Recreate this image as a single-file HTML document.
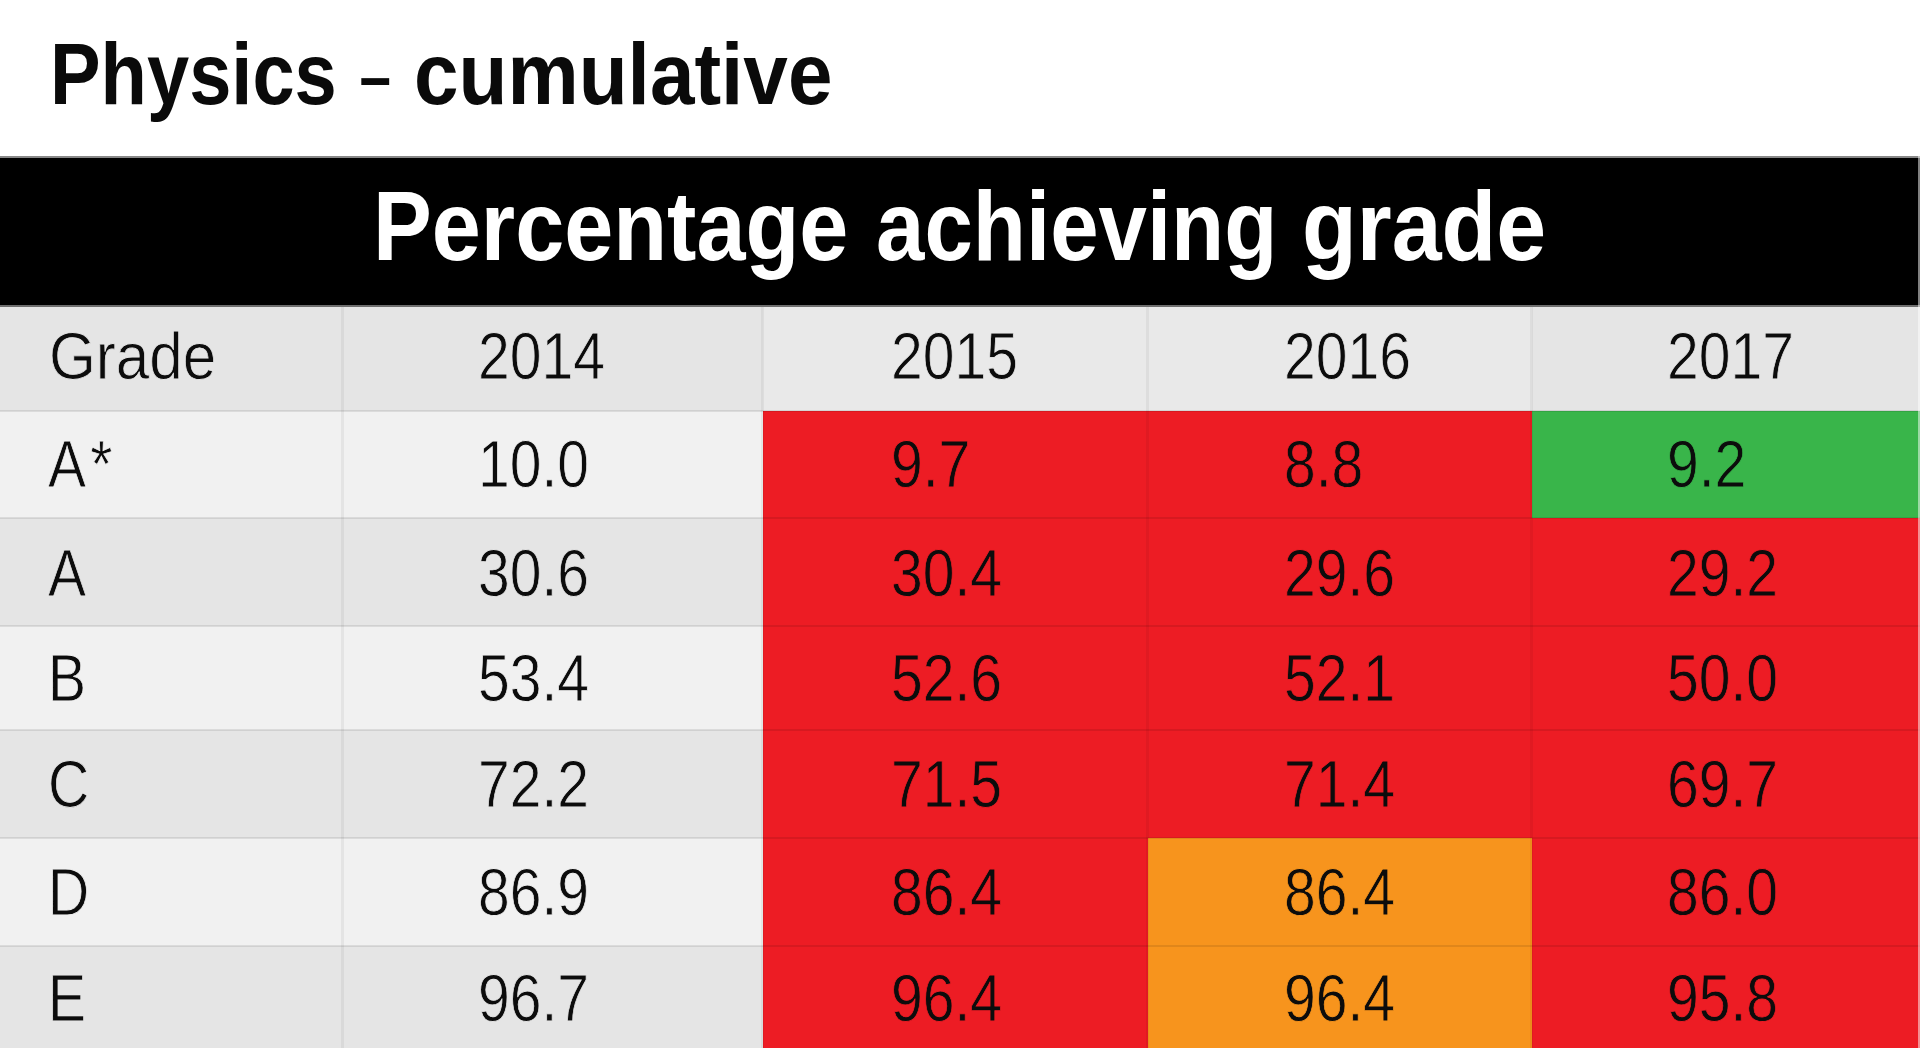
<!DOCTYPE html>
<html lang="en"><head><meta charset="utf-8"><title>Physics - cumulative</title>
<style>
html,body{margin:0;padding:0;background:#fff;}
body{width:1920px;height:1048px;overflow:hidden;position:relative;font-family:"Liberation Sans",sans-serif;color:#111;}
.c{position:absolute;}
.t{position:absolute;white-space:nowrap;line-height:1;transform-origin:0 0;}
.n{font-size:67px;transform:scaleX(0.852);color:#0c0c0c;}
h1{margin:0;font-weight:bold;}
</style></head><body>
<h1 style="color:#0a0a0a;"><span class="t" style="left:49.7px;top:30.6px;font-size:86.5px;transform:scaleX(0.8770);">Physics</span> <span class="t" style="left:357.0px;top:31.3px;font-size:86.5px;transform:scaleX(1.2700);transform-origin:0 51px;transform:scale(1.27,0.66);">-</span> <span class="t" style="left:414.0px;top:30.6px;font-size:86.5px;transform:scaleX(0.9260);">cumulative</span></h1>
<div class="c" style="left:0;top:156px;width:1920px;height:2px;background:#888;"></div>
<div class="c" style="left:0;top:158px;width:1920px;height:147px;background:#000;"></div>
<div style="color:#fff;font-weight:bold;"><span class="t" style="left:372.7px;top:177.3px;font-size:98px;transform:scaleX(0.8996);">Percentage</span> <span class="t" style="left:876.3px;top:177.3px;font-size:98px;transform:scaleX(0.8880);">achieving</span> <span class="t" style="left:1302.3px;top:177.3px;font-size:98px;transform:scaleX(0.9150);">grade</span></div>
<div class="c" style="left:0px;top:305px;width:343px;height:106px;background:#e5e5e5;"></div>
<div class="c" style="left:343px;top:305px;width:420px;height:106px;background:#e5e5e5;"></div>
<div class="c" style="left:763px;top:305px;width:385px;height:106px;background:#e9e9e9;"></div>
<div class="c" style="left:1148px;top:305px;width:384px;height:106px;background:#e9e9e9;"></div>
<div class="c" style="left:1532px;top:305px;width:388px;height:106px;background:#e5e5e5;"></div>
<div class="c" style="left:0px;top:411px;width:343px;height:107px;background:#f1f1f1;"></div>
<div class="c" style="left:343px;top:411px;width:420px;height:107px;background:#f1f1f1;"></div>
<div class="c" style="left:763px;top:411px;width:385px;height:107px;background:#ed1c24;"></div>
<div class="c" style="left:1148px;top:411px;width:384px;height:107px;background:#ed1c24;"></div>
<div class="c" style="left:1532px;top:411px;width:388px;height:107px;background:#39b54a;"></div>
<div class="c" style="left:0px;top:518px;width:343px;height:108px;background:#e5e5e5;"></div>
<div class="c" style="left:343px;top:518px;width:420px;height:108px;background:#e5e5e5;"></div>
<div class="c" style="left:763px;top:518px;width:385px;height:108px;background:#ed1c24;"></div>
<div class="c" style="left:1148px;top:518px;width:384px;height:108px;background:#ed1c24;"></div>
<div class="c" style="left:1532px;top:518px;width:388px;height:108px;background:#ed1c24;"></div>
<div class="c" style="left:0px;top:626px;width:343px;height:104px;background:#f1f1f1;"></div>
<div class="c" style="left:343px;top:626px;width:420px;height:104px;background:#f1f1f1;"></div>
<div class="c" style="left:763px;top:626px;width:385px;height:104px;background:#ed1c24;"></div>
<div class="c" style="left:1148px;top:626px;width:384px;height:104px;background:#ed1c24;"></div>
<div class="c" style="left:1532px;top:626px;width:388px;height:104px;background:#ed1c24;"></div>
<div class="c" style="left:0px;top:730px;width:343px;height:108px;background:#e5e5e5;"></div>
<div class="c" style="left:343px;top:730px;width:420px;height:108px;background:#e5e5e5;"></div>
<div class="c" style="left:763px;top:730px;width:385px;height:108px;background:#ed1c24;"></div>
<div class="c" style="left:1148px;top:730px;width:384px;height:108px;background:#ed1c24;"></div>
<div class="c" style="left:1532px;top:730px;width:388px;height:108px;background:#ed1c24;"></div>
<div class="c" style="left:0px;top:838px;width:343px;height:108px;background:#f1f1f1;"></div>
<div class="c" style="left:343px;top:838px;width:420px;height:108px;background:#f1f1f1;"></div>
<div class="c" style="left:763px;top:838px;width:385px;height:108px;background:#ed1c24;"></div>
<div class="c" style="left:1148px;top:838px;width:384px;height:108px;background:#f7941d;"></div>
<div class="c" style="left:1532px;top:838px;width:388px;height:108px;background:#ed1c24;"></div>
<div class="c" style="left:0px;top:946px;width:343px;height:102px;background:#e5e5e5;"></div>
<div class="c" style="left:343px;top:946px;width:420px;height:102px;background:#e5e5e5;"></div>
<div class="c" style="left:763px;top:946px;width:385px;height:102px;background:#ed1c24;"></div>
<div class="c" style="left:1148px;top:946px;width:384px;height:102px;background:#f7941d;"></div>
<div class="c" style="left:1532px;top:946px;width:388px;height:102px;background:#ed1c24;"></div>
<div class="c" style="left:0;top:410px;width:1920px;height:2px;background:rgba(0,0,0,0.09);"></div>
<div class="c" style="left:0;top:517px;width:1920px;height:2px;background:rgba(0,0,0,0.09);"></div>
<div class="c" style="left:0;top:625px;width:1920px;height:2px;background:rgba(0,0,0,0.09);"></div>
<div class="c" style="left:0;top:729px;width:1920px;height:2px;background:rgba(0,0,0,0.09);"></div>
<div class="c" style="left:0;top:837px;width:1920px;height:2px;background:rgba(0,0,0,0.09);"></div>
<div class="c" style="left:0;top:945px;width:1920px;height:2px;background:rgba(0,0,0,0.09);"></div>
<div class="c" style="left:341px;top:306px;width:3px;height:742px;background:rgba(0,0,0,0.05);"></div>
<div class="c" style="left:761px;top:306px;width:3px;height:742px;background:rgba(0,0,0,0.05);"></div>
<div class="c" style="left:1146px;top:306px;width:3px;height:742px;background:rgba(0,0,0,0.05);"></div>
<div class="c" style="left:1530px;top:306px;width:3px;height:742px;background:rgba(0,0,0,0.05);"></div>
<div class="c" style="left:0;top:305px;width:1920px;height:2px;background:#6e6e6e;"></div>
<div class="c" style="left:1918px;top:156px;width:2px;height:892px;background:rgba(255,255,255,0.5);"></div>
<div class="t n" style="left:48.5px;top:322.4px;transform:scaleX(0.898);-webkit-text-stroke:0.8px #e5e5e5;">Grade</div>
<div class="t n" style="left:477.5px;top:322.4px;transform:scaleX(0.852);-webkit-text-stroke:0.8px #e5e5e5;">2014</div>
<div class="t n" style="left:890.5px;top:322.4px;transform:scaleX(0.852);-webkit-text-stroke:0.8px #e9e9e9;">2015</div>
<div class="t n" style="left:1283.5px;top:322.4px;transform:scaleX(0.852);-webkit-text-stroke:0.8px #e9e9e9;">2016</div>
<div class="t n" style="left:1666.5px;top:322.4px;transform:scaleX(0.852);-webkit-text-stroke:0.8px #e5e5e5;">2017</div>
<div class="t n" style="left:47.5px;top:430.4px;transform:scaleX(0.852);-webkit-text-stroke:0.8px #f1f1f1;">A<span style="margin-left:5px">*</span></div>
<div class="t n" style="left:477.5px;top:430.4px;transform:scaleX(0.852);-webkit-text-stroke:0.8px #f1f1f1;">10.0</div>
<div class="t n" style="left:890.5px;top:430.4px;transform:scaleX(0.852);-webkit-text-stroke:0.8px #ed1c24;">9.7</div>
<div class="t n" style="left:1283.5px;top:430.4px;transform:scaleX(0.852);-webkit-text-stroke:0.8px #ed1c24;">8.8</div>
<div class="t n" style="left:1666.5px;top:430.4px;transform:scaleX(0.852);-webkit-text-stroke:0.8px #39b54a;">9.2</div>
<div class="t n" style="left:47.5px;top:538.7px;transform:scaleX(0.852);-webkit-text-stroke:0.8px #e5e5e5;">A</div>
<div class="t n" style="left:477.5px;top:538.7px;transform:scaleX(0.852);-webkit-text-stroke:0.8px #e5e5e5;">30.6</div>
<div class="t n" style="left:890.5px;top:538.7px;transform:scaleX(0.852);-webkit-text-stroke:0.8px #ed1c24;">30.4</div>
<div class="t n" style="left:1283.5px;top:538.7px;transform:scaleX(0.852);-webkit-text-stroke:0.8px #ed1c24;">29.6</div>
<div class="t n" style="left:1666.5px;top:538.7px;transform:scaleX(0.852);-webkit-text-stroke:0.8px #ed1c24;">29.2</div>
<div class="t n" style="left:47.5px;top:643.8px;transform:scaleX(0.852);-webkit-text-stroke:0.8px #f1f1f1;">B</div>
<div class="t n" style="left:477.5px;top:643.8px;transform:scaleX(0.852);-webkit-text-stroke:0.8px #f1f1f1;">53.4</div>
<div class="t n" style="left:890.5px;top:643.8px;transform:scaleX(0.852);-webkit-text-stroke:0.8px #ed1c24;">52.6</div>
<div class="t n" style="left:1283.5px;top:643.8px;transform:scaleX(0.852);-webkit-text-stroke:0.8px #ed1c24;">52.1</div>
<div class="t n" style="left:1666.5px;top:643.8px;transform:scaleX(0.852);-webkit-text-stroke:0.8px #ed1c24;">50.0</div>
<div class="t n" style="left:47.5px;top:749.8px;transform:scaleX(0.852);-webkit-text-stroke:0.8px #e5e5e5;">C</div>
<div class="t n" style="left:477.5px;top:749.8px;transform:scaleX(0.852);-webkit-text-stroke:0.8px #e5e5e5;">72.2</div>
<div class="t n" style="left:890.5px;top:749.8px;transform:scaleX(0.852);-webkit-text-stroke:0.8px #ed1c24;">71.5</div>
<div class="t n" style="left:1283.5px;top:749.8px;transform:scaleX(0.852);-webkit-text-stroke:0.8px #ed1c24;">71.4</div>
<div class="t n" style="left:1666.5px;top:749.8px;transform:scaleX(0.852);-webkit-text-stroke:0.8px #ed1c24;">69.7</div>
<div class="t n" style="left:47.5px;top:857.8px;transform:scaleX(0.852);-webkit-text-stroke:0.8px #f1f1f1;">D</div>
<div class="t n" style="left:477.5px;top:857.8px;transform:scaleX(0.852);-webkit-text-stroke:0.8px #f1f1f1;">86.9</div>
<div class="t n" style="left:890.5px;top:857.8px;transform:scaleX(0.852);-webkit-text-stroke:0.8px #ed1c24;">86.4</div>
<div class="t n" style="left:1283.5px;top:857.8px;transform:scaleX(0.852);-webkit-text-stroke:0.8px #f7941d;">86.4</div>
<div class="t n" style="left:1666.5px;top:857.8px;transform:scaleX(0.852);-webkit-text-stroke:0.8px #ed1c24;">86.0</div>
<div class="t n" style="left:47.5px;top:963.7px;transform:scaleX(0.852);-webkit-text-stroke:0.8px #e5e5e5;">E</div>
<div class="t n" style="left:477.5px;top:963.7px;transform:scaleX(0.852);-webkit-text-stroke:0.8px #e5e5e5;">96.7</div>
<div class="t n" style="left:890.5px;top:963.7px;transform:scaleX(0.852);-webkit-text-stroke:0.8px #ed1c24;">96.4</div>
<div class="t n" style="left:1283.5px;top:963.7px;transform:scaleX(0.852);-webkit-text-stroke:0.8px #f7941d;">96.4</div>
<div class="t n" style="left:1666.5px;top:963.7px;transform:scaleX(0.852);-webkit-text-stroke:0.8px #ed1c24;">95.8</div>
</body></html>
